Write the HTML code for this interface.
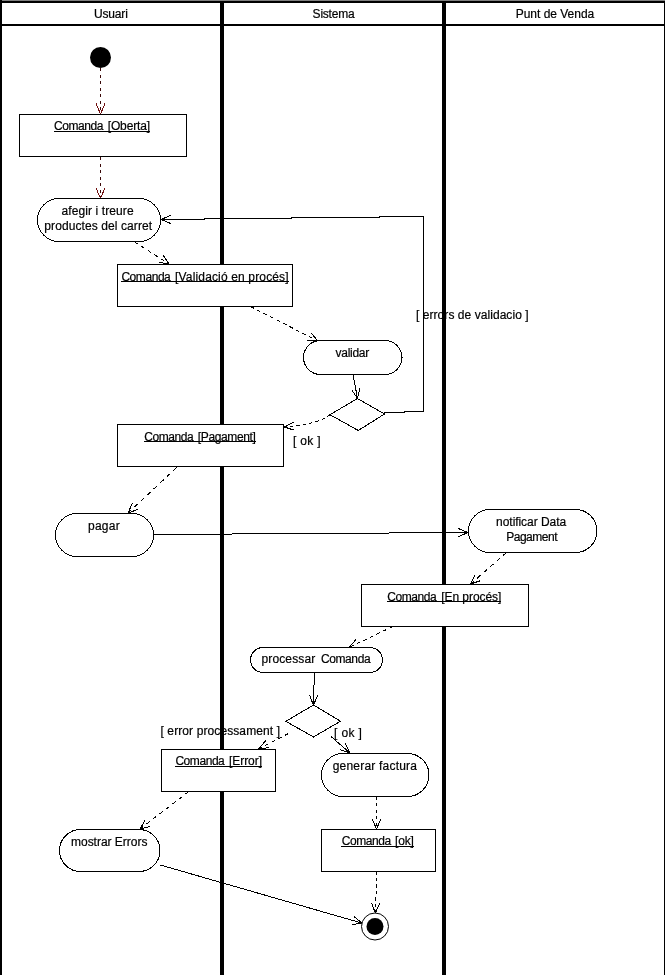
<!DOCTYPE html>
<html>
<head>
<meta charset="utf-8">
<title>Diagrama d'activitats</title>
<style>
html,body{margin:0;padding:0;background:#fff;}
body{width:665px;height:975px;overflow:hidden;font-family:"Liberation Sans",sans-serif;}
svg{display:block;position:absolute;left:0;top:0;will-change:transform;}
text{font-family:"Liberation Sans",sans-serif;font-size:12px;fill:#000;white-space:pre;stroke:#000;stroke-width:0.2px;}
.ln{stroke:#000;stroke-width:1;fill:none;shape-rendering:crispEdges;}
.lr{stroke:#701010;stroke-width:1;fill:none;shape-rendering:crispEdges;}
.sh{stroke:#000;stroke-width:1;fill:#fff;shape-rendering:crispEdges;}
.pill{stroke:#000;stroke-width:1;fill:#fff;shape-rendering:crispEdges;}
.da{stroke:#000;stroke-width:1;fill:none;stroke-dasharray:3.4 3.1;shape-rendering:crispEdges;}
.dr{stroke:#3a0808;stroke-width:1;fill:none;stroke-dasharray:3.4 3.1;shape-rendering:crispEdges;}
</style>
</head>
<body>
<svg width="665" height="975" viewBox="0 0 665 975">
<rect x="0" y="0" width="665" height="975" fill="#fff"/>
<g shape-rendering="crispEdges">
<rect x="0" y="0" width="665" height="1" fill="#808080"/>
<rect x="0" y="1" width="665" height="2" fill="#000"/>
<rect x="0" y="0" width="2" height="975" fill="#000"/>
<rect x="664" y="1" width="1" height="974" fill="#000"/>
<rect x="0" y="24" width="665" height="2" fill="#000"/>
<rect x="220" y="1" width="4" height="974" fill="#000"/>
<rect x="442" y="1" width="4" height="974" fill="#000"/>
</g>
<text x="94" y="18.3" textLength="33.8" lengthAdjust="spacing">Usuari</text>
<text x="312.6" y="18.3" textLength="42" lengthAdjust="spacing">Sistema</text>
<text x="515.7" y="18.3" textLength="78.6" lengthAdjust="spacing">Punt de Venda</text>
<circle cx="100.5" cy="57.5" r="10.5" fill="#000"/>
<path class="dr" style="stroke-dasharray:3.40 3.10" d="M100.5 68 L100.5 114"/>
<path class="lr" d="M96.0 103.4 L100.5 114.0 L105.0 103.4"/>
<rect class="sh" x="19.5" y="114.5" width="167" height="42"/>
<text y="130"><tspan x="54.1" textLength="49.4">Comanda</tspan><tspan x="107.7" textLength="42.4">[Oberta]</tspan></text>
<rect x="54" y="131" width="96" height="1" fill="#000" shape-rendering="crispEdges"/>
<path class="dr" style="stroke-dasharray:3.40 3.10" d="M100.5 157 L100.5 198.5"/>
<path class="lr" d="M96.0 187.9 L100.5 198.5 L105.0 187.9"/>
<rect class="pill" x="37.5" y="198.5" width="123" height="43" rx="21.5" ry="21.5"/>
<text x="61.6" y="214.5" textLength="72" lengthAdjust="spacing">afegir i treure</text>
<text x="44.3" y="229.5" textLength="107.8" lengthAdjust="spacing">productes del carret</text>
<path class="ln" d="M384 412.5 H404.5 M404 411.5 H424 M423.5 412 V216"/>
<path class="ln" d="M161 219.5 H205 M204 218.5 H292 M291 217.5 H380 M379 216.5 H424"/>
<path class="ln" d="M170.6 215.3 L161.0 219.5 L170.7 223.5"/>
<path class="da" style="stroke-dasharray:4.04 3.68" d="M134.7 242 L169 264"/>
<path class="ln" d="M158.6 262.2 L169.0 264.0 L163.1 255.3"/>
<rect class="sh" x="117.5" y="264.5" width="175" height="42"/>
<text y="280.7"><tspan x="121.4" textLength="49.4">Comanda</tspan><tspan x="175.1" textLength="113.5">[Validaci&#243; en proc&#233;s]</tspan></text>
<rect x="121" y="281" width="168" height="1" fill="#000" shape-rendering="crispEdges"/>
<path class="da" style="stroke-dasharray:3.82 3.48" d="M250.5 306.5 L317.8 341"/>
<path class="ln" d="M307.3 340.2 L317.8 341.0 L311.1 332.9"/>
<rect class="pill" x="303.5" y="340.5" width="98.5" height="34" rx="17.0" ry="17.0"/>
<text x="335.6" y="356.7" textLength="33.6" lengthAdjust="spacing">validar</text>
<path class="ln" d="M353 374.5 L357.5 398.5"/>
<path class="ln" d="M351.7 389.8 L357.5 398.5 L359.8 388.2"/>
<path class="sh" d="M357.5 398.5 L384.5 414 L358.3 430.5 L330 414.7 Z"/>
<text x="416" y="319" textLength="112.6" lengthAdjust="spacing">[ errors de validacio ]</text>
<path class="da" d="M330 414.7 C322 421 308 425 284.5 427"/>
<path class="ln" d="M293.8 422.1 L284.5 427.0 L294.5 430.3"/>
<text x="293.1" y="445" textLength="27.4" lengthAdjust="spacing">[ ok ]</text>
<rect class="sh" x="117.5" y="424.5" width="166" height="42"/>
<text y="440.5"><tspan x="144.3" textLength="49.4">Comanda</tspan><tspan x="197.8" textLength="58.1">[Pagament]</tspan></text>
<rect x="144" y="441" width="112" height="1" fill="#000" shape-rendering="crispEdges"/>
<path class="da" style="stroke-dasharray:4.65 4.24" d="M176.7 467.5 L128 513"/>
<path class="ln" d="M132.3 503.4 L128.0 513.0 L137.9 509.4"/>
<rect class="pill" x="55.5" y="513.5" width="98" height="43" rx="21.5" ry="21.5"/>
<text x="88" y="530" textLength="31.7" lengthAdjust="spacing">pagar</text>
<path class="ln" d="M153.5 534.5 L468 532.5"/>
<path class="ln" d="M458.4 536.7 L468.0 532.5 L458.3 528.5"/>
<rect class="pill" x="468.5" y="509.5" width="128.5" height="43" rx="21.5" ry="21.5"/>
<text x="496.1" y="525.5" textLength="70" lengthAdjust="spacing">notificar Data</text>
<text x="506.2" y="540.5" textLength="51.3" lengthAdjust="spacing">Pagament</text>
<path class="da" style="stroke-dasharray:4.52 4.12" d="M506.5 552.5 L470.5 584"/>
<path class="ln" d="M475.1 574.5 L470.5 584.0 L480.5 580.7"/>
<rect class="sh" x="361.5" y="584.5" width="167" height="42"/>
<text y="600.5"><tspan x="387.3" textLength="49.4">Comanda</tspan><tspan x="441.3" textLength="60">[En proc&#233;s]</tspan></text>
<rect x="387" y="601" width="114" height="1" fill="#000" shape-rendering="crispEdges"/>
<path class="da" style="stroke-dasharray:3.77 3.44" d="M392.8 626.5 L349 647.5"/>
<path class="ln" d="M355.9 639.6 L349.0 647.5 L359.5 647.0"/>
<rect class="pill" x="250.5" y="647.5" width="132" height="25" rx="12.5" ry="12.5"/>
<text y="662.8"><tspan x="261.4" textLength="53.9">processar</tspan><tspan x="321" textLength="49.6">Comanda</tspan></text>
<path class="ln" d="M314.4 672.5 L313.4 705"/>
<path class="ln" d="M309.6 695.2 L313.4 705.0 L317.8 695.5"/>
<path class="sh" d="M313.5 705 L340.5 721.2 L313.5 737 L285.8 721.3 Z"/>
<path class="da" style="stroke-dasharray:3.81 3.48" d="M288 733.8 L259 748.5"/>
<path class="ln" d="M265.8 740.5 L259.0 748.5 L269.5 747.8"/>
<path class="ln" d="M331 736.5 L349.7 752.8"/>
<path class="ln" d="M339.7 749.5 L349.7 752.8 L345.1 743.4"/>
<text x="160.5" y="735" textLength="119.5" lengthAdjust="spacing">[ error processament ]</text>
<text x="334" y="737" textLength="27.9" lengthAdjust="spacing">[ ok ]</text>
<rect class="sh" x="161.5" y="749.5" width="114" height="42"/>
<text y="765"><tspan x="175.4" textLength="49.4">Comanda</tspan><tspan x="229" textLength="33">[Error]</tspan></text>
<rect x="175" y="766" width="87" height="1" fill="#000" shape-rendering="crispEdges"/>
<rect class="pill" x="321.5" y="753.5" width="107.5" height="43" rx="21.5" ry="21.5"/>
<text x="332.7" y="769.7" textLength="84.3" lengthAdjust="spacing">generar factura</text>
<path class="da" style="stroke-dasharray:3.40 3.10" d="M376.5 796.5 L376.5 829"/>
<path class="ln" d="M372.4 819.3 L376.5 829.0 L380.6 819.3"/>
<rect class="sh" x="321.5" y="829.5" width="114" height="42"/>
<text y="845"><tspan x="341.8" textLength="49.4">Comanda</tspan><tspan x="395.1" textLength="18.8">[ok]</tspan></text>
<rect x="341" y="846" width="73" height="1" fill="#000" shape-rendering="crispEdges"/>
<path class="da" style="stroke-dasharray:3.40 3.10" d="M377 871.5 L375.3 913"/>
<path class="ln" d="M371.6 903.2 L375.3 913.0 L379.8 903.5"/>
<path class="da" style="stroke-dasharray:4.28 3.91" d="M188.9 791.5 L140 829"/>
<path class="ln" d="M145.2 819.9 L140.0 829.0 L150.2 826.4"/>
<rect class="pill" x="59.5" y="829.5" width="100.5" height="42" rx="21.0" ry="21.0"/>
<text x="71" y="845.5" textLength="76.4" lengthAdjust="spacing">mostrar Errors</text>
<path class="ln" d="M160.3 865 L362.3 923.2"/>
<path class="ln" d="M351.9 924.5 L362.3 923.2 L354.1 916.6"/>
<circle cx="375" cy="926.5" r="13.5" fill="#fff" stroke="#000" stroke-width="1"/>
<circle cx="375" cy="926.5" r="8.5" fill="#000"/>
</svg>
</body>
</html>
